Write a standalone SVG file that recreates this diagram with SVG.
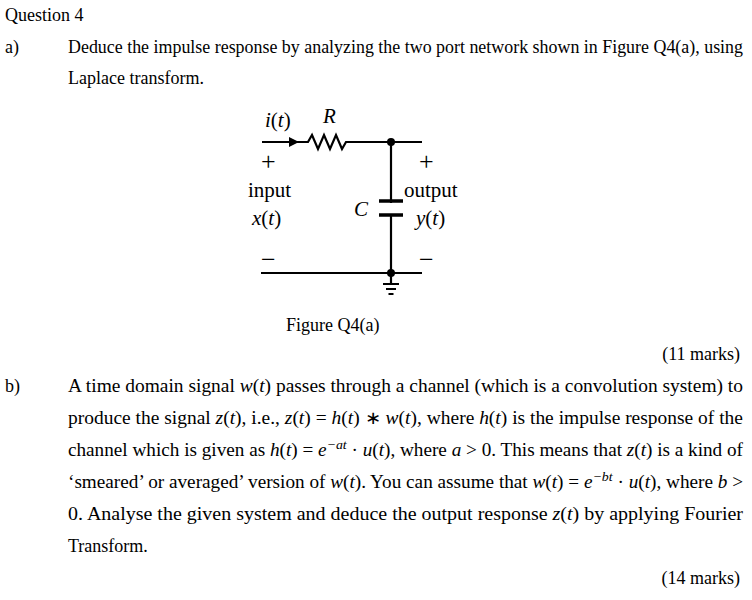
<svg xmlns="http://www.w3.org/2000/svg" width="752" height="600" viewBox="0 0 752 600">
<style>
text{font-family:"Liberation Serif","Times New Roman",serif;font-size:18px;fill:#000}
.c{font-size:21px}
.s{font-size:26px}
.i{font-style:italic}
.w{stroke:#000;stroke-width:2.2;fill:none}
</style>
<defs><marker id="ar" markerWidth="10" markerHeight="10" refX="9" refY="5" orient="auto" markerUnits="userSpaceOnUse"><path d="M0,0L10,5L0,10z"/></marker></defs>
<rect width="752" height="600" fill="#fff"/>
<text x="5" y="21">Question 4</text>
<text x="5" y="53">a)</text>
<text x="68" y="53" textLength="675" lengthAdjust="spacingAndGlyphs">Deduce the impulse response by analyzing the two port network shown in Figure Q4(a), using</text>
<text x="68" y="84">Laplace transform.</text>
<g id="circuit">
<g id="connectors">
<path class="w" d="M262,142H298" marker-end="url(#ar)"/>
<path class="w" d="M298,142H308L312,135L318,149L324,135L330,149L336,135L342,149L346,142H422"/>
<path class="w" d="M391,142V203M391,215V273M261,273H422M391,273V283"/>
<path d="M379,201H403M379,215H403" stroke="#000" stroke-width="3.5"/>
<path d="M383,284H399M386,289H396M388.5,294H393.5" stroke="#000" stroke-width="2"/>
<circle cx="391" cy="142" r="4"/><circle cx="391" cy="273" r="4"/>
</g>
<g id="labels">
<text x="265" y="127" class="c"><tspan class="i">i</tspan>(<tspan class="i">t</tspan>)</text>
<text x="323" y="123" class="c i">R</text>
<text x="261" y="170" class="s">+</text><text x="419" y="170" class="s">+</text>
<text x="248" y="197" class="c">input</text>
<text x="252" y="225" class="c"><tspan class="i">x</tspan>(<tspan class="i">t</tspan>)</text>
<text x="354" y="216" class="c i">C</text>
<text x="404" y="197" class="c">output</text>
<text x="416" y="225" class="c"><tspan class="i">y</tspan>(<tspan class="i">t</tspan>)</text>
<text x="261" y="268" class="s">−</text><text x="419" y="268" class="s">−</text>
</g>
</g>
<text x="286" y="331">Figure Q4(a)</text>
<text x="740" y="360" text-anchor="end">(11 marks)</text>
<text x="5" y="392">b)</text>
<text x="68" y="392" textLength="675" lengthAdjust="spacingAndGlyphs">A time domain signal <tspan class="i">w</tspan>(<tspan class="i">t</tspan>) passes through a channel (which is a convolution system) to</text>
<text x="68" y="424" textLength="675" lengthAdjust="spacingAndGlyphs">produce the signal <tspan class="i">z</tspan>(<tspan class="i">t</tspan>), i.e., <tspan class="i">z</tspan>(<tspan class="i">t</tspan>) = <tspan class="i">h</tspan>(<tspan class="i">t</tspan>) ∗ <tspan class="i">w</tspan>(<tspan class="i">t</tspan>), where <tspan class="i">h</tspan>(<tspan class="i">t</tspan>) is the impulse response of the</text>
<text x="68" y="456" textLength="675" lengthAdjust="spacingAndGlyphs">channel which is given as <tspan class="i">h</tspan>(<tspan class="i">t</tspan>) = <tspan class="i">e</tspan><tspan class="i" font-size="13" dy="-7">−at</tspan><tspan dy="7"> · </tspan><tspan class="i">u</tspan>(<tspan class="i">t</tspan>), where <tspan class="i">a</tspan> &gt; 0. This means that <tspan class="i">z</tspan>(<tspan class="i">t</tspan>) is a kind of</text>
<text x="68" y="488" textLength="675" lengthAdjust="spacingAndGlyphs">‘smeared’ or averaged’ version of <tspan class="i">w</tspan>(<tspan class="i">t</tspan>). You can assume that <tspan class="i">w</tspan>(<tspan class="i">t</tspan>) = <tspan class="i">e</tspan><tspan class="i" font-size="13" dy="-7">−bt</tspan><tspan dy="7"> · </tspan><tspan class="i">u</tspan>(<tspan class="i">t</tspan>), where <tspan class="i">b</tspan> &gt;</text>
<text x="68" y="520" textLength="675" lengthAdjust="spacingAndGlyphs">0. Analyse the given system and deduce the output response <tspan class="i">z</tspan>(<tspan class="i">t</tspan>) by applying Fourier</text>
<text x="68" y="552">Transform.</text>
<text x="740" y="584" text-anchor="end">(14 marks)</text>
</svg>
